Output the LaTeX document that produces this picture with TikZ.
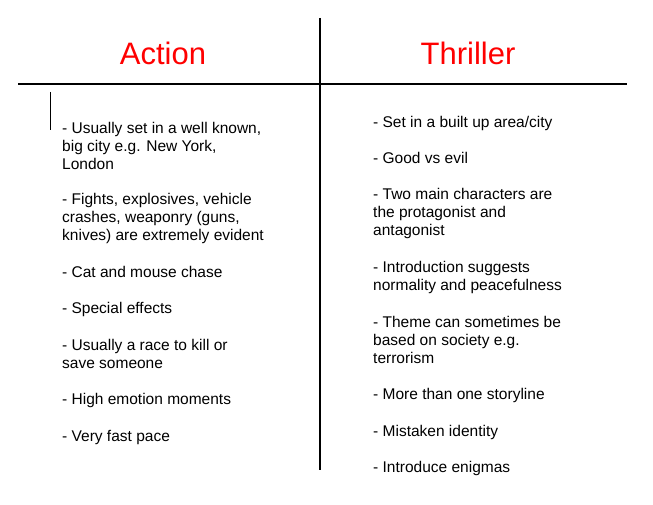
\documentclass[tikz,border=0pt]{standalone}
\usepackage{fontspec}
\setmainfont{Liberation Sans}
\begin{document}
\begin{tikzpicture}[x=1pt,y=-1pt,
  txt/.style={anchor=base west,inner sep=0pt,font=\fontsize{15.5}{18}\selectfont},
  head/.style={text=red,font=\fontsize{31}{34}\selectfont,inner sep=0pt}]
\useasboundingbox (0,0) rectangle (653,505);
\draw[line width=1.3pt] (18,84) -- (627,84);
\draw[line width=1.3pt] (320,18) -- (320,470);
\draw[line width=1pt] (50,92) -- (50,130);
\node[head] (ha) at (163,53) {Action};
\node[head] (ht) at (468,53) {Thriller};
\foreach \t/\y [count=\i] in {
 {- Usually set in a well known,}/128, {big city e.g. New York,}/146, {London}/164,
 {- Fights, explosives, vehicle}/199, {crashes, weaponry (guns,}/217, {knives) are extremely evident}/235,
 {- Cat and mouse chase}/272, {- Special effects}/308,
 {- Usually a race to kill or}/345, {save someone}/363,
 {- High emotion moments}/399, {- Very fast pace}/436}
 \node[txt] (l\i) at (62,\y+5.5) {\t};
\foreach \t/\y [count=\i] in {
 {- Set in a built up area/city}/122, {- Good vs evil}/158,
 {- Two main characters are}/194, {the protagonist and}/212, {antagonist}/230,
 {- Introduction suggests}/267, {normality and peacefulness}/285,
 {- Theme can sometimes be}/322, {based on society e.g.}/340, {terrorism}/358,
 {- More than one storyline}/394, {- Mistaken identity}/431, {- Introduce enigmas}/467}
 \node[txt] (r\i) at (373,\y+5.5) {\t};
\end{tikzpicture}
\end{document}
